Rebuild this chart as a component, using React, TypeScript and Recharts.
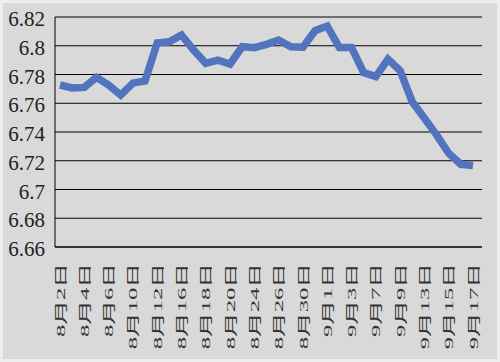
import React from 'react';
import { LineChart, Line, XAxis, YAxis, CartesianGrid } from 'recharts';

// trading days, 8月2日 .. 9月17日
const dates = [
  '8月2日', '8月3日', '8月4日', '8月5日', '8月6日',
  '8月9日', '8月10日', '8月11日', '8月12日', '8月13日',
  '8月16日', '8月17日', '8月18日', '8月19日', '8月20日',
  '8月23日', '8月24日', '8月25日', '8月26日', '8月27日',
  '8月30日', '8月31日', '9月1日', '9月2日', '9月3日',
  '9月6日', '9月7日', '9月8日', '9月9日', '9月10日',
  '9月13日', '9月14日', '9月15日', '9月16日', '9月17日',
];

const rates = [
  6.7727, 6.7706, 6.771, 6.778, 6.7727,
  6.7657, 6.774, 6.7755, 6.802, 6.8028,
  6.8075, 6.797, 6.7878, 6.79, 6.7873,
  6.7993, 6.7987, 6.801, 6.804, 6.7993,
  6.799, 6.8105, 6.8137, 6.7987, 6.7987,
  6.7813, 6.7785, 6.7906, 6.7827, 6.761,
  6.7495, 6.738, 6.7252, 6.7175, 6.7166,
];

const yTicks = [6.66, 6.68, 6.7, 6.72, 6.74, 6.76, 6.78, 6.8, 6.82];

const data = dates.map((date, i) => ({ date, rate: rates[i] }));

const FONT = '"Liberation Serif", "DejaVu Serif", "Noto Sans CJK SC", serif';

const fmt = (v: number) => String(Number(v.toFixed(2)));

function RateTick({ x, y, payload }: any) {
  return (
    <text
      x={x}
      y={y + 2}
      textAnchor="end"
      dominantBaseline="central"
      style={{ fontFamily: FONT, fontSize: 21 }}
      fill="#222"
    >
      {fmt(payload.value)}
    </text>
  );
}

function DateTick({ x, y, payload }: any) {
  return (
    <text
      transform={`translate(${x},${y + 16}) rotate(-90) scale(1.9,1)`}
      textAnchor="end"
      dominantBaseline="central"
      style={{ fontFamily: FONT, fontSize: 13 }}
      fill="#333"
    >
      {payload.value}
    </text>
  );
}

export default function App() {
  return (
    <div
      style={{
        position: 'absolute',
        left: 0,
        top: 0,
        width: 500,
        height: 362,
        background: '#d9d9d9',
        border: '3px solid #ededed',
        boxSizing: 'border-box',
      }}
    >
      <div style={{ position: 'absolute', left: -3, top: -3 }}>
        <LineChart width={500} height={362} data={data} margin={{ top: 17, right: 18, left: 0, bottom: 0 }}>
          <CartesianGrid vertical={false} stroke="#000" strokeWidth={1} />
          <XAxis
            dataKey="date"
            interval={1}
            height={115}
            padding={{ left: 5, right: 9 }}
            axisLine={{ stroke: '#000' }}
            tickLine={false}
            tickSize={0}
            tickMargin={0}
            tick={<DateTick />}
          />
          <YAxis
            domain={[6.66, 6.82]}
            ticks={yTicks}
            width={55}
            axisLine={{ stroke: '#000' }}
            tickLine={false}
            tickSize={0}
            tickMargin={10}
            tick={<RateTick />}
          />
          <Line
            type="linear"
            dataKey="rate"
            stroke="#5274be"
            strokeWidth={7.5}
            dot={false}
            activeDot={false}
            isAnimationActive={false}
          />
        </LineChart>
      </div>
    </div>
  );
}
